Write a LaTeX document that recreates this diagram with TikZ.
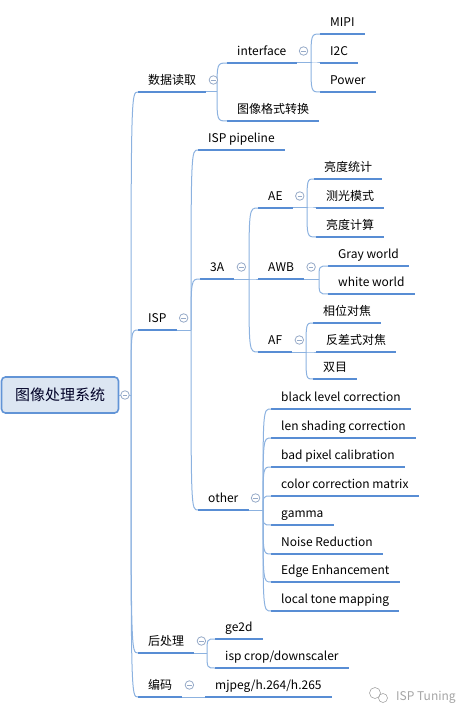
\documentclass[tikz,border=0pt]{standalone}
\usepackage{fontspec}
\setmainfont{Noto Sans CJK SC}
\usetikzlibrary{calc}
\definecolor{ul}{RGB}{88,141,212}
\definecolor{cn}{RGB}{140,178,224}
\definecolor{rootfill}{RGB}{220,230,242}
\definecolor{rootdraw}{RGB}{98,148,214}
\definecolor{cg}{RGB}{150,170,200}
\definecolor{wm}{RGB}{165,165,165}
\tikzset{
  topic/.style={anchor=south west, inner xsep=10pt, inner ysep=7pt, text depth=0pt,
    font=\fontsize{12}{14}\selectfont, text=black},
  uline/.style={draw=ul, line width=2.6pt},
  conn/.style={draw=cn, line width=1pt},
  foldc/.style={circle, draw=cg, fill=white, line width=0.8pt, minimum size=8.5pt, inner sep=0pt,
    path picture={\draw[cg, line width=0.8pt] ($(path picture bounding box.west)+(2,0)$) -- ($(path picture bounding box.east)+(-2,0)$);}},
  rootbox/.style={draw=rootdraw, line width=1.6pt, fill=rootfill, rounded corners=4pt,
    minimum width=117pt, minimum height=36pt, inner sep=0pt, text=black!85!blue,
    font=\fontsize{15}{17}\selectfont},
  wmark/.style={text=wm, font=\fontsize{12}{14}\selectfont, inner sep=0pt}
}
\newcommand\topic[4]{\node[topic] (#1) at (#2,#3) {#4};
  \draw[uline] (#1.south west) -- (#1.south east);}
\newcommand\fold[1]{\node[foldc] (f-#1) at ($(#1.south east)+(7,-12)$) {};}
\newcommand\link[2]{\draw[conn] (#1) .. controls (#1 |- #2.south west) .. (#2.south west);}
\begin{document}
\begin{tikzpicture}[x=1pt,y=-1pt]
\useasboundingbox (0,0) rectangle (465,719);
% root
\node[rootbox] (root) at (60,395) {图像处理系统};
\coordinate (bRoot) at (131,395);
\draw[conn] (root.east) -- (bRoot);
\node[foldc] (f-root) at (125,395) {};
% level 1
\topic{data}{138}{92}{数据读取}
\topic{isp}{138}{330}{ISP}
\topic{post}{138}{653}{后处理}
\topic{enc}{138}{697}{编码}
\foreach \c in {data,isp,post,enc} {\link{bRoot}{\c}}
% data
\coordinate (bData) at (217,92);
\draw[conn] (data.south east) -- (bData);
\topic{iface}{227}{63}{interface}
\topic{fmt}{227}{121}{图像格式转换}
\foreach \c in {iface,fmt} {\link{bData}{\c}}
\coordinate (bIface) at (311,63);
\draw[conn] (iface.south east) -- (bIface);
\topic{mipi}{320}{34}{MIPI}
\topic{i2c}{320}{63}{I2C}
\topic{power}{320}{92}{Power}
\foreach \c in {mipi,i2c,power} {\link{bIface}{\c}}
% ISP
\coordinate (bIsp) at (191,330);
\draw[conn] (isp.south east) -- (bIsp);
\topic{pipe}{198}{150}{ISP pipeline}
\topic{threeA}{200}{279}{3A}
\topic{other}{198}{510}{other}
\foreach \c in {pipe,threeA,other} {\link{bIsp}{\c}}
% 3A
\coordinate (b3A) at (249,279);
\draw[conn] (threeA.south east) -- (b3A);
\topic{ae}{258}{208}{AE}
\topic{awb}{258}{279}{AWB}
\topic{af}{258}{352}{AF}
\foreach \c in {ae,awb,af} {\link{b3A}{\c}}
\coordinate (bAe) at (307,208);
\draw[conn] (ae.south east) -- (bAe);
\topic{ae1}{314}{179}{亮度统计}
\topic{ae2}{316}{208}{测光模式}
\topic{ae3}{316}{237}{亮度计算}
\foreach \c in {ae1,ae2,ae3} {\link{bAe}{\c}}
\coordinate (bAwb) at (319,279);
\draw[conn] (awb.south east) -- (bAwb);
\topic{awb1}{328}{266}{Gray world}
\topic{awb2}{328}{294}{white world}
\foreach \c in {awb1,awb2} {\link{bAwb}{\c}}
\coordinate (bAf) at (306,352);
\draw[conn] (af.south east) -- (bAf);
\topic{af1}{313}{323}{相位对焦}
\topic{af2}{316}{352}{反差式对焦}
\topic{af3}{313}{379}{双目}
\foreach \c in {af1,af2,af3} {\link{bAf}{\c}}
% other
\coordinate (bOther) at (263,510);
\draw[conn] (other.south east) -- (bOther);
\topic{o1}{271}{409}{black level correction}
\topic{o2}{271}{438}{len shading correction}
\topic{o3}{271}{467}{bad pixel calibration}
\topic{o4}{271}{496}{color correction matrix}
\topic{o5}{271}{525}{gamma}
\topic{o6}{271}{554}{Noise Reduction}
\topic{o7}{271}{582}{Edge Enhancement}
\topic{o8}{271}{611}{local tone mapping}
\foreach \c in {o1,o2,o3,o4,o5,o6,o7,o8} {\link{bOther}{\c}}
% post
\coordinate (bPost) at (207,653);
\draw[conn] (post.south east) -- (bPost);
\topic{ge}{215}{639}{ge2d}
\topic{crop}{215}{668}{isp crop/downscaler}
\foreach \c in {ge,crop} {\link{bPost}{\c}}
% enc
\topic{mjpeg}{205}{697}{mjpeg/h.264/h.265}
\draw[conn] (enc.south east) -- (mjpeg.south west);
% fold markers
\foreach \c in {data,iface,isp,threeA,ae,awb,af,other,post,enc} {\fold{\c}}
% watermark
\node[wmark, anchor=west] (wmtext) at (396,697) {ISP Tuning};
\draw[wm, line width=0.6pt] (375,693) circle (5.5);
\draw[wm, line width=0.6pt] (383,698) circle (4.5);
\end{tikzpicture}
\end{document}
